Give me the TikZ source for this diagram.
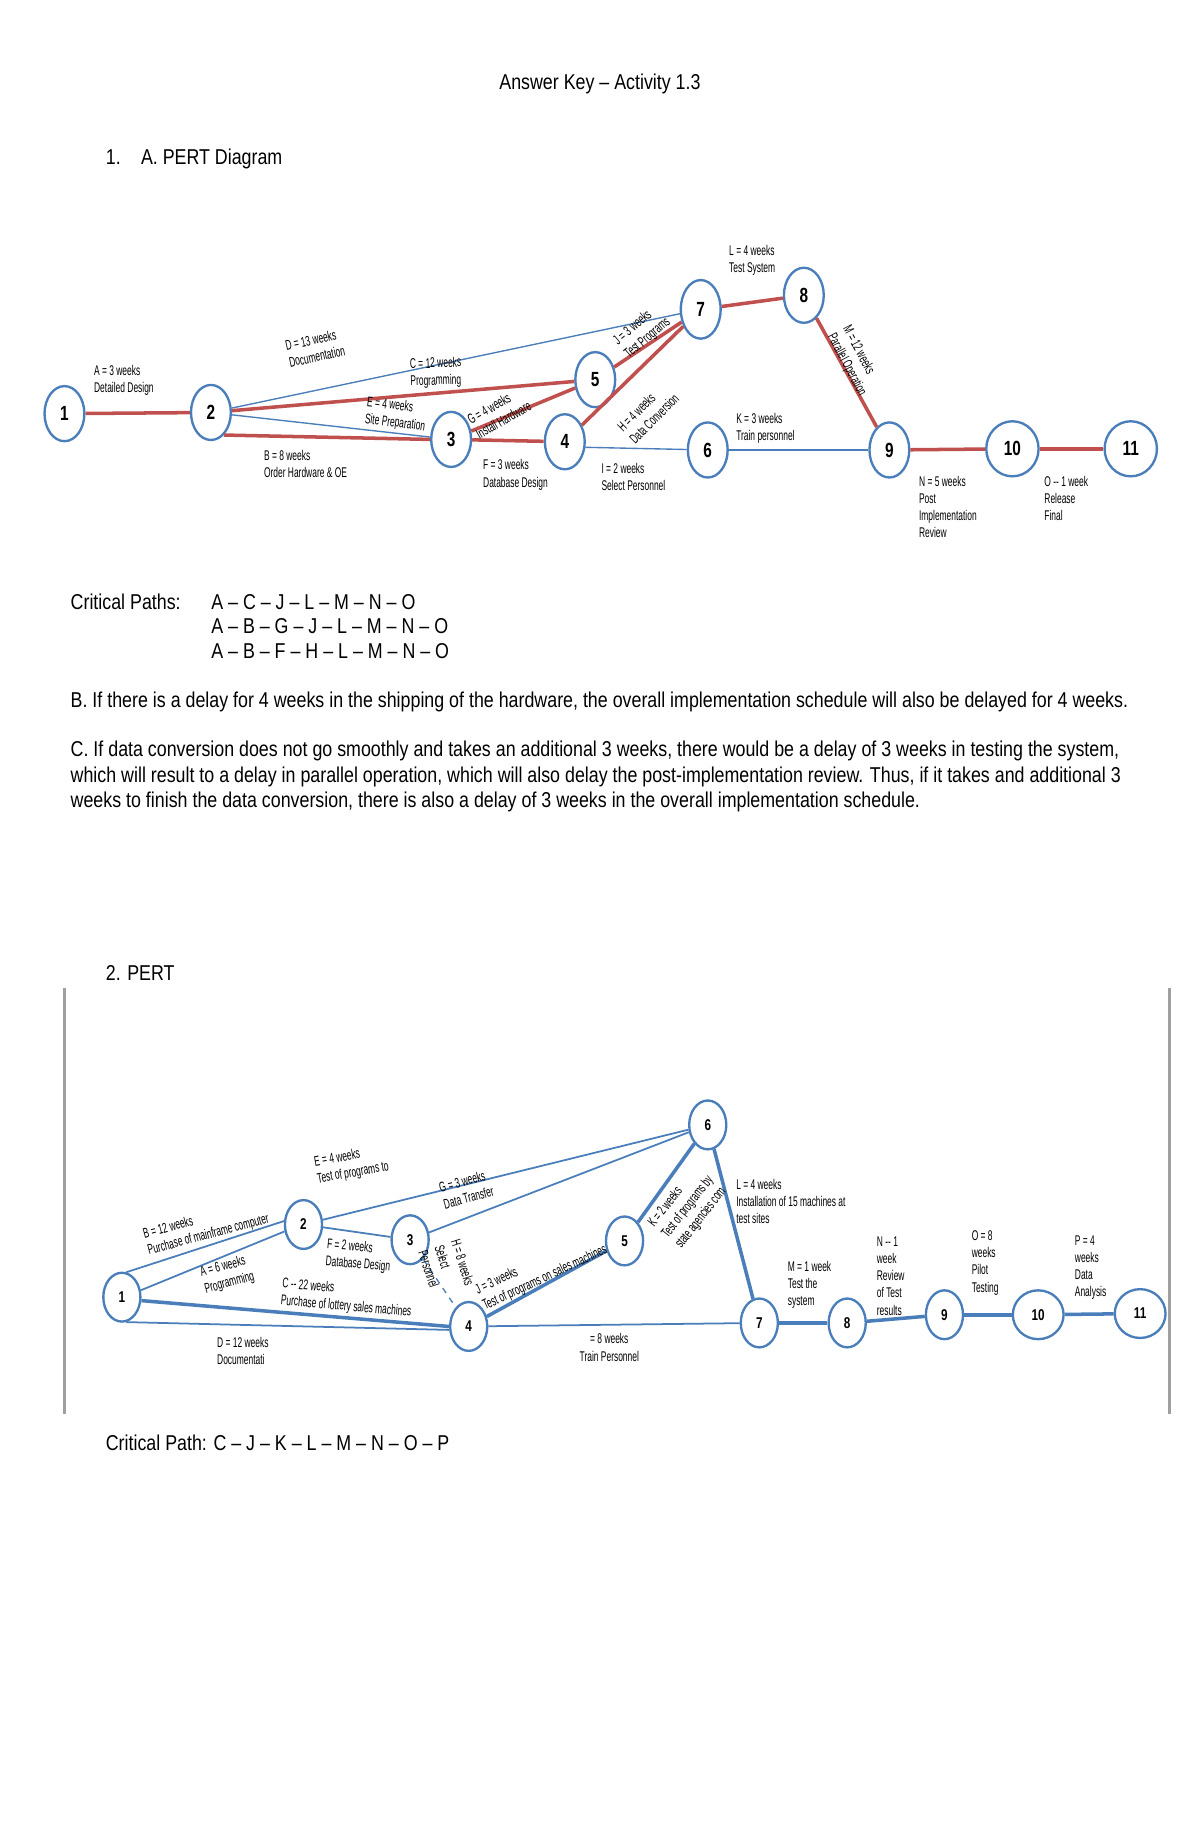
\documentclass[tikz,border=0pt]{standalone}
\usepackage{fontspec}
\setmainfont{Liberation Sans}[FakeStretch=0.83]
\newfontfamily\labfont{Liberation Sans}[FakeStretch=0.6]
\newfontfamily\numfont{Liberation Sans}[FakeStretch=0.75]
\usetikzlibrary{shapes.geometric}
\definecolor{cblue}{RGB}{74,126,187}
\definecolor{cred}{RGB}{192,80,77}
\definecolor{cgray}{RGB}{160,160,160}
\tikzset{
  ev/.style={ellipse, draw=cblue, line width=1.2pt, fill=white, inner sep=0pt,
    minimum width=20.4pt, minimum height=28.2pt,
    font=\numfont\bfseries\fontsize{10.5}{10.5}\selectfont},
  evw/.style={ev, minimum width=26.8pt},
  evs/.style={ev, minimum width=19pt, minimum height=25pt,
    font=\numfont\bfseries\fontsize{8}{8}\selectfont},
  evsw/.style={evs, minimum width=26pt},
  crit/.style={draw=cred, line width=1.8pt},
  blu/.style={draw=cblue, line width=0.7pt},
  thk/.style={draw=cblue, line width=1.8pt},
  lab/.style={font=\labfont\fontsize{7.2}{8.8}\selectfont, align=left, inner sep=0pt},
  txt/.style={font=\fontsize{11}{13}\selectfont, anchor=base west, inner sep=0pt},
  frame/.style={draw=cgray, line width=1.2pt},
}
\begin{document}
\begin{tikzpicture}[x=0.6pt,y=-0.6pt]
\useasboundingbox[fill=white] (0,0) rectangle (1024,1566);

% ---------- text ----------
\node[txt, anchor=base] (title) at (512,76) {Answer Key -- Activity 1.3};
\node[txt] (q1) at (90,140) {1.};
\node[txt] (q1a) at (120,140) {A. PERT Diagram};

% ---------- diagram 1 nodes ----------
\node[ev] (n1) at (55,353) {1};
\node[ev] (n2) at (180,352) {2};
\node[ev] (n3) at (385,375) {3};
\node[ev] (n4) at (482,377) {4};
\node[ev] (n5) at (508,324) {5};
\node[ev] (n6) at (604,384) {6};
\node[ev, minimum height=30pt] (n7) at (598,264) {7};
\node[ev] (n8) at (686,252) {8};
\node[ev] (n9) at (759,384) {9};
\node[evw] (n10) at (864,383) {10};
\node[evw] (n11) at (965,383) {11};

% ---------- diagram 1 edges ----------
\draw[crit] (n1) -- (n2);
\draw[blu] (n2) -- (n7);
\draw[crit] (n2) -- (n5);
\draw[blu] (n2) -- (n3);
\draw[crit] (n2.-60) -- (n3.west);
\draw[crit] (n3) -- (n5);
\draw[crit] (n3) -- (n4);
\draw[crit] (n4) -- (n7);
\draw[crit] (n5) -- (n7);
\draw[blu] (n4.-15) -- (n6);
\draw[blu] (n6) -- (n9);
\draw[crit] (n7) -- (n8);
\draw[crit] (n8) -- (n9);
\draw[crit] (n9) -- (n10);
\draw[crit] (n10) -- (n11);

% ---------- diagram 1 labels ----------
\node[lab, anchor=north west] (lA) at (80,311) {A = 3 weeks\\Detailed Design};
\node[lab, rotate=12] (lD) at (269,297) {D = 13 weeks\\Documentation};
\node[lab, rotate=2] (lC) at (372,318) {C = 12 weeks\\Programming};
\node[lab, rotate=-7] (lE) at (338,354) {E = 4 weeks\\Site Preparation};
\node[lab, anchor=north west] (lB) at (225,384) {B = 8 weeks\\Order Hardware \& OE};
\node[lab, rotate=30] (lG) at (426,352) {G = 4 weeks\\Install Hardware};
\node[lab, anchor=north west] (lF) at (412,392) {F = 3 weeks\\Database Design};
\node[lab, anchor=north west] (lI) at (513,395) {I = 2 weeks\\Select Personnel};
\node[lab, rotate=40] (lJ) at (548,283) {J = 3 weeks\\Test Programs};
\node[lab, rotate=45] (lH) at (553,352) {H = 4 weeks\\Data Conversion};
\node[lab, anchor=north west] (lK) at (628,352) {K = 3 weeks\\Train personnel};
\node[lab, anchor=north west] (lL) at (622,209) {L = 4 weeks\\Test System};
\node[lab, rotate=-62] (lM) at (729,308) {M = 12 weeks\\Parallel Operation};
\node[lab, anchor=north west] (lN) at (784,406) {N = 5 weeks\\Post\\Implementation\\Review};
\node[lab, anchor=north west] (lO) at (891,406) {O -- 1 week\\Release\\Final};

% ---------- answers ----------
\node[txt] (cp) at (60,520) {Critical Paths:};
\node[txt] (cp1) at (180,520) {A -- C -- J -- L -- M -- N -- O};
\node[txt] (cp2) at (180,541) {A -- B -- G -- J -- L -- M -- N -- O};
\node[txt] (cp3) at (180,562) {A -- B -- F -- H -- L -- M -- N -- O};
\node[txt] (pb) at (60,604) {B. If there is a delay for 4 weeks in the shipping of the hardware, the overall implementation schedule will also be delayed for 4 weeks.};
\node[txt] (pc1) at (60,646) {C. If data conversion does not go smoothly and takes an additional 3 weeks, there would be a delay of 3 weeks in testing the system,};
\node[txt] (pc2) at (60,668) {which will result to a delay in parallel operation, which will also delay the post-implementation review. Thus, if it takes and additional 3};
\node[txt] (pc3) at (60,689) {weeks to finish the data conversion, there is also a delay of 3 weeks in the overall implementation schedule.};

\node[txt] (q2) at (90,837) {2. PERT};
\coordinate (fl1) at (55,843); \coordinate (fl2) at (55,1207);
\coordinate (fr1) at (998,843); \coordinate (fr2) at (998,1207);
\draw[frame] (fl1) -- (fl2);
\draw[frame] (fr1) -- (fr2);

% ---------- diagram 2 nodes ----------
\node[evs] (m1) at (104,1107) {1};
\node[evs] (m2) at (259,1045) {2};
\node[evs] (m3) at (350,1058) {3};
\node[evs] (m4) at (400,1132) {4};
\node[evs] (m5) at (533,1059) {5};
\node[evs] (m6) at (604,960) {6};
\node[evs] (m7) at (648,1129) {7};
\node[evs] (m8) at (723,1129) {8};
\node[evs] (m9) at (806,1122) {9};
\node[evsw] (m10) at (886,1122) {10};
\node[evsw] (m11) at (973,1121) {11};

% ---------- diagram 2 edges ----------
\draw[blu, line width=0.9pt] (m1.80) -- (m2.170);
\draw[blu, line width=0.9pt] (m1.20) -- (m2.200);
\draw[thk] (m1.-10) -- (m4.west);
\draw[blu, line width=0.9pt] (m1.-80) -- (m4.190);
\draw[blu, line width=0.9pt] (m2) -- (m6);
\draw[blu, line width=0.9pt] (m2) -- (m3);
\draw[blu, line width=0.9pt] (m3) -- (m6);
\draw[blu, line width=0.7pt, dashed] (m3) -- (m4);
\draw[thk] (m4) -- (m5);
\draw[thk] (m5) -- (m6);
\draw[thk] (m6) -- (m7);
\draw[blu, line width=0.9pt] (m4) -- (m7);
\draw[thk] (m7) -- (m8);
\draw[thk] (m8) -- (m9);
\draw[thk] (m9) -- (m10);
\draw[thk] (m10) -- (m11);

% ---------- diagram 2 labels ----------
\node[lab, rotate=15] (kB) at (176,1047) {B = 12 weeks\\Purchase of mainframe computer};
\node[lab, rotate=15] (kA) at (194,1088) {A = 6 weeks\\Programming};
\node[lab, rotate=10] (kE) at (300,994) {E = 4 weeks\\Test of programs to};
\node[lab, rotate=-5] (kF) at (306,1072) {F = 2 weeks\\Database Design};
\node[lab, rotate=15] (kG) at (398,1015) {G = 3 weeks\\Data Transfer};
\node[lab, rotate=-72] (kH) at (381,1082) {H = 8 weeks\\Select\\Personnel};
\node[lab, rotate=-5] (kC) at (296,1108) {C -- 22 weeks\\Purchase of lottery sales machines};
\node[lab, anchor=north west] (kD) at (185,1141) {D = 12 weeks\\Documentati};
\node[lab, rotate=25] (kJ) at (462,1084) {J = 3 weeks\\Test of programs on sales machines};
\node[lab, rotate=52] (kK) at (587,1030) {K = 2 weeks\\Test of programs by\\state agencies com};
\node[lab, anchor=north west] (kL) at (628,1006) {L = 4 weeks\\Installation of 15 machines at\\test sites};
\node[lab, align=center] (kI) at (520,1150) {= 8 weeks\\Train Personnel};
\node[lab, anchor=north west] (kM) at (672,1076) {M = 1 week\\Test the\\system};
\node[lab, anchor=north west] (kN) at (748,1055) {N -- 1\\week\\Review\\of Test\\results};
\node[lab, anchor=north west] (kO) at (829,1050) {O = 8\\weeks\\Pilot\\Testing};
\node[lab, anchor=north west] (kP) at (917,1054) {P = 4\\weeks\\Data\\Analysis};

\node[txt] (cpath) at (90,1238) {Critical Path: C -- J -- K -- L -- M -- N -- O -- P};
\end{tikzpicture}
\end{document}
